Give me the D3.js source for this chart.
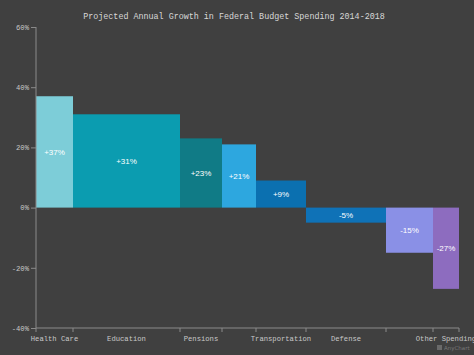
<!DOCTYPE html>
<html><head><meta charset="utf-8">
<script src="https://cdn.jsdelivr.net/npm/d3@7/dist/d3.min.js"></script>
<style>html,body{margin:0;padding:0;background:#404040;}svg{display:block;}</style>
</head><body>
<svg id="c" width="474" height="355"></svg>
<script>
const categories = ["Health Care","Education","Pensions","Social Security","Transportation","Defense","Interest on Debt","Other Spending"];
const growth = [37, 31, 23, 21, 9, -5, -15, -27];
const weights = [37, 107, 42, 34, 50, 80, 47, 26];
const colors = ["#7dcdd8","#0b9cb0","#107b86","#2da7df","#0b70b0","#0f72b7","#8a90e6","#8d6cbf"];
const yTicks = [-40,-20,0,20,40,60];
const title = "Projected Annual Growth in Federal Budget Spending 2014-2018";

const svg = d3.select("#c");
const mono = "'Liberation Mono','DejaVu Sans Mono',monospace";
const L = 36, R = 459, T = 27, B = 328;

svg.append("rect").attr("width",474).attr("height",355).attr("fill","#404040");

svg.append("text").attr("x",234).attr("y",19).attr("text-anchor","middle")
  .attr("font-family",mono).attr("font-size",8.4).attr("fill","#d8d8d8").text(title);

const total = d3.sum(weights);
const cum = [0]; weights.forEach((w,i)=>cum.push(cum[i]+w));
const x = d3.scaleLinear().domain([0,total]).range([L,R]);
const y = d3.scaleLinear().domain([-40,60]).range([B,T]);

// bars
const g = svg.append("g");
categories.forEach((c,i)=>{
  const x0 = x(cum[i]), x1 = x(cum[i+1]);
  const v = growth[i];
  g.append("rect").attr("x",x0).attr("width",x1-x0)
    .attr("y",y(Math.max(0,v))).attr("height",Math.abs(y(v)-y(0)))
    .attr("fill",colors[i]);
  g.append("text").attr("x",(x0+x1)/2).attr("y",(y(v)+y(0))/2+3)
    .attr("text-anchor","middle").attr("font-family","'Liberation Sans Narrow','Liberation Sans',sans-serif")
    .attr("font-size",8).attr("fill","#ffffff")
    .text((v>0?"+":"")+v+"%");
});

// y axis
const yAxis = svg.append("g").attr("transform",`translate(${L},0)`)
  .call(d3.axisLeft(y).tickValues(yTicks).tickFormat(d=>d+"%").tickSize(5).tickPadding(2));
yAxis.select(".domain").attr("stroke","#8a8a8a").attr("d",`M0,${T}V${B}`);
yAxis.selectAll(".tick line").attr("stroke","#8a8a8a");
yAxis.selectAll("text").attr("font-family",mono).attr("font-size",7.2).attr("fill","#c8c8c8");

// x axis
const xa = svg.append("g");
xa.append("line").attr("x1",L).attr("x2",R).attr("y1",B).attr("y2",B).attr("stroke","#8a8a8a");
cum.forEach(v=>{
  xa.append("line").attr("x1",x(v)).attr("x2",x(v)).attr("y1",B).attr("y2",B+4).attr("stroke","#8a8a8a");
});
// hide overlapping labels (shorter labels get priority)
const boxes = categories.map((c,i)=>{
  const cx = (x(cum[i])+x(cum[i+1]))/2, w = c.length*4.32;
  return {c, cx, l: cx-w/2, r: cx+w/2, len: c.length, i};
});
const placed = [];
boxes.slice().sort((a,b)=>a.len-b.len || a.i-b.i).forEach(b=>{
  if (placed.some(p=> b.l < p.r + 3 && b.r > p.l - 3)) return;
  placed.push(b);
});
placed.forEach(b=>{
  xa.append("text").attr("x",b.cx).attr("y",B+13).attr("text-anchor","middle")
    .attr("font-family",mono).attr("font-size",7.2).attr("fill","#c8c8c8").text(b.c);
});

// credit
svg.append("rect").attr("x",437).attr("y",345).attr("width",5).attr("height",5).attr("fill","#6a6a6a");
svg.append("text").attr("x",444).attr("y",350).attr("text-anchor","start")
  .attr("font-family","'DejaVu Sans',sans-serif").attr("font-size",5.5).attr("fill","#777").text("AnyChart");
</script>
</body></html>
